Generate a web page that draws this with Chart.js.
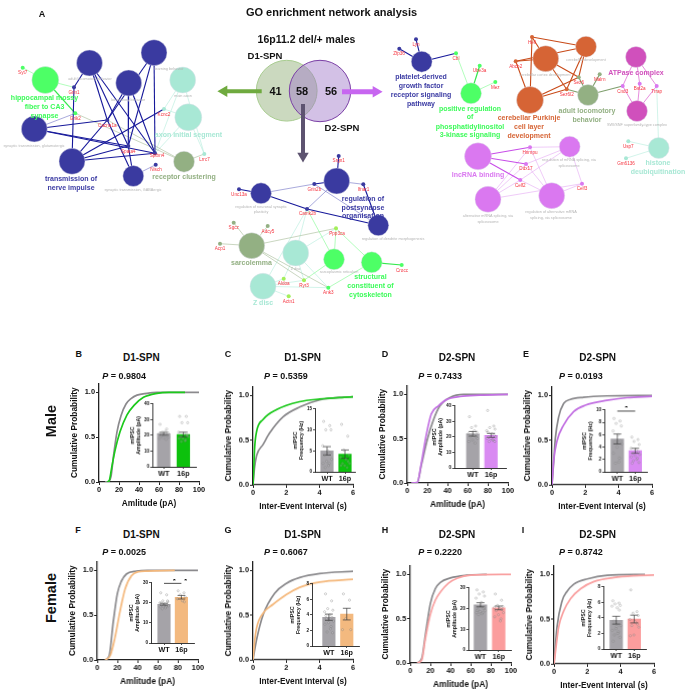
<!DOCTYPE html>
<html>
<head>
<meta charset="utf-8">
<title>GO enrichment network analysis</title>
<script src="https://cdn.jsdelivr.net/npm/chart.js@4"></script>
<style>
  body { margin: 0; background: #fff; width: 685px; height: 691px; overflow: hidden; position: relative; font-family: "Liberation Sans", Arial, sans-serif; }
  canvas { position: absolute; }
  .t { position: absolute; font-weight: bold; color: #111; white-space: nowrap; transform: translate(-50%, -50%); }
  .p { position: absolute; font-weight: bold; color: #111; white-space: nowrap; transform: translateY(-50%); font-size: 9px; }
</style>
</head>
<body>
<script>
// ---------- panel A: network nodes, in figure units
const nodeNames = ['b1','b2','b3','b4','b5','b6','gL','tL1','tL2','oL',
  'Syt7','Grin1','Grik2','Cacna1a','Kcnc2','Spata4','Sptbn4','Nisch','Lrrc7',
  'bC1','bC2','bC3','Unc13a','Grin2b','Camk2b','Srgn1','Ifnar1','Ppp3ca','Sgcz','Adcy5','Acp1','oC','tC1','gC1','gC2','tC2','Aldoa','Ryr3','Ank3','Actn1','Crocc',
  'bR','Zfp36','Lyn','Cbl','gR','Ube3a','Mez','r1','r2','r3','Hell','Abcb2','Sez6l2','Sez6','Malrn','oR','Cnd3','Bst2a','Trrap','m1','m2','tR','Usp7','Gm6136',
  'v1','v2','v3','v4','Hnrnpu','Ddx17','Celf2','Celf3'];
const nodeX = [89.5,154,128.7,34.3,72,133.3,45.3,182.7,188.3,184,
  22.7,74,75.3,107.3,164,128.3,155,155.7,204.3,
  261,336.7,378.3,239,314.3,307,338.7,363.3,336,233.7,267.7,220,251.7,295.7,334,371.7,263,283.7,304,328.3,288.7,401.7,
  421.7,399.3,416,456,471,479.7,495.3,545.7,586,530,532,515.7,566.7,578.7,599.7,588,622.7,639.7,656.7,636,637,658.7,628.3,626,
  478,569.7,488,551.7,530,526,520.3,582];
const nodeY = [63,52.7,83,129,161.3,176,80,80,117.3,161.7,
  67.7,87.3,113.3,120,109,146,153.3,164.7,154,
  193.3,181,225.3,189.3,184,209,156,184.3,228.3,222.7,226,243.7,245.7,253,259.3,262.3,286.3,278.7,280.3,287.7,296.3,265,
  61.7,48.7,39.3,53.3,93.3,65.7,82,58.7,46.7,100,37,61.3,89.3,77.3,74.3,95,86,83.7,86,57,111,148,141.3,158.3,
  156.3,146.7,199.3,195.7,147.3,164,180,183.7];
const nodeSize = [13,13,13,13,13,10.5,13.5,13,13.5,10.5,
  2,2,2,2,2,2,2,2,2,
  10.5,13,10.5,2,2,2,2,2,2,2,2,2,13,13,10.5,10.5,13,2,2,2,2,2,
  10.5,2,2,2,10.5,2,2,13,10.5,13.5,2,2,2,2,2,10.5,2,2,2,10.5,10.5,10.5,2,2,
  13.5,10.5,13,13,2,2,2,2];
const nodeTone = ['blue','blue','blue','blue','blue','blue','green','teal','teal','olive',
  'green','blue','green','blue','teal','blue','blue','blue','teal',
  'blue','blue','blue','blue','blue','blue','blue','blue','lime','olive','olive','olive','olive','teal','green','green','teal','lime','lime','green','lime','green',
  'blue','blue','blue','green','green','green','green','rust','rust','rust','rust','rust','rust','olive','olive','olive','violet','violet','violet','mag','mag','teal','teal','teal',
  'violet','violet','violet','violet','violet','violet','violet','violet'];

const thickBlue = [['b1','Grin1'],['b1','Spata4'],['b1','Sptbn4'],['b1','Cacna1a'],['b2','Cacna1a'],['b2','Spata4'],['b2','Sptbn4'],['b3','Cacna1a'],['b3','Spata4'],['b3','Sptbn4'],['b4','Cacna1a'],['b4','Spata4'],['b4','Sptbn4'],['b5','Cacna1a'],['b5','Spata4'],['b5','Sptbn4'],['b5','Kcnc2'],['b5','Grin1'],['b6','Cacna1a'],['b6','Spata4'],
  ['Unc13a','bC1'],['bC1','Camk2b'],['bC2','Grin2b'],['bC2','Srgn1'],['Ifnar1','bC3'],['Camk2b','bC3'],['bR','Zfp36'],['bR','Lyn'],['bR','Cbl']];
const thinBlue = [['b6','Nisch'],['b4','Grik2'],['bC2','Ifnar1'],['Grin2b','bC3'],['Grin2b','bC1'],['Camk2b','bC2']];
const thinGreen = [['gL','Syt7'],['gL','Grin1'],['gC1','Camk2b'],['gC1','Ppp3ca'],['gC1','Ryr3'],['gC2','Ppp3ca'],['gC2','Ank3'],['gR','Cbl'],['gR','Mez']];
const thickGreen = [['gL','Grik2'],['gC2','Crocc'],['gR','Ube3a']];
const thinOlive = [['oL','Grik2'],['oL','Cacna1a'],['oL','Lrrc7'],['oC','Ppp3ca'],['oC','Ank3'],['oC','Ryr3'],['oC','Sgcz'],['oC','Adcy5'],['oC','Acp1']];
const thickOlive = [['oR','Sez6'],['oR','Sez6l2'],['oR','Malrn'],['oR','Cnd3']];
const thinTeal = [['tL1','Kcnc2'],['tL1','Sptbn4'],['tL1','Lrrc7'],['tL2','Kcnc2'],['tL2','Sptbn4'],['tL2','Lrrc7'],
  ['tC1','Camk2b'],['tC1','Aldoa'],['tC1','Ryr3'],['tC1','Ank3'],['tC1','Ppp3ca'],['tC2','Camk2b'],['tC2','Aldoa'],['tC2','Ryr3'],['tC2','Actn1'],['tC2','Ank3'],
  ['tR','Usp7'],['tR','Gm6136'],['tR','Trrap']];
const rustEdges = [['r1','Hell'],['r2','Hell'],['r3','Hell'],['r1','Abcb2'],['r2','Abcb2'],['r3','Abcb2'],['r1','Sez6l2'],['r2','Sez6l2'],['r3','Sez6l2'],['r1','Sez6'],['r2','Sez6'],['r3','Sez6']];
const magentaEdges = [['m1','Cnd3'],['m1','Bst2a'],['m1','Trrap'],['m2','Cnd3'],['m2','Bst2a'],['m2','Trrap']];
const violetThick = [['v1','Hnrnpu'],['v1','Ddx17'],['v1','Celf2']];
const violetThin = [['v2','Hnrnpu'],['v2','Ddx17'],['v2','Celf2'],['v2','Celf3'],['v3','Hnrnpu'],['v3','Ddx17'],['v3','Celf2'],['v3','Celf3'],['v4','Hnrnpu'],['v4','Ddx17'],['v4','Celf2'],['v4','Celf3']];

const groupLabels = [
  ['hippocampal mossy',44.5,98,'green'],['fiber to CA3',44.5,107,'green'],['synapse',44.5,116,'green'],
  ['axon initial segment',188.5,135.5,'teal'],['receptor clustering',184,177.5,'olive'],
  ['transmission of',71,179.5,'blue'],['nerve impulse',71,188.5,'blue'],
  ['regulation of',363,199,'blue'],['postsynapse',363,208,'blue'],['organisation',363,216.5,'blue'],
  ['sarcolemma',251.5,263.5,'olive'],['Z disc',263,303.5,'teal'],
  ['structural',370.5,277.5,'green'],['constituent of',370.5,286.5,'green'],['cytoskeleton',370.5,295.5,'green'],
  ['platelet-derived',421,77.5,'blue'],['growth factor',421,86.5,'blue'],['receptor signaling',421,95.5,'blue'],['pathway',421,104.5,'blue'],
  ['positive regulation',470,109,'green'],['of',470,117.5,'green'],['phosphatidylinositol',470,127,'green'],['3-kinase signaling',470,135.5,'green'],
  ['cerebellar Purkinje',529,118,'rust'],['cell layer',529,127,'rust'],['development',529,136,'rust'],
  ['adult locomotory',587,111,'olive'],['behavior',587,120,'olive'],['ATPase complex',636,73,'mag'],
  ['histone',658,163.5,'teal'],['deubiquitination',658,172.5,'teal'],['lncRNA binding',478,175,'violet']];
const geneLabels = [
  ['Syt7',22.7,73],['Grin1',74,92.7],['Grik2',75.3,118.7],['Cacna1a',107.3,125.7],['Kcnc2',164,115],['Spata4',128.3,151.7],['Sptbn4',157,156],['Nisch',156,170],['Lrrc7',204.5,159.5],
  ['Unc13a',239,195],['Grin2b',314.3,189.5],['Camk2b',307.5,214],['Srgn1',338.7,161],['Ifnar1',363.5,190],['Ppp3ca',337,234],['Sgcz',233.7,228],['Adcy5',268,231.5],['Acp1',220,249],['Aldoa',283.7,284],['Ryr3',304,286],['Ank3',328.3,293],['Actn1',288.7,302],['Crocc',402,270.5],
  ['Zfp36',399,54],['Lyn',416,45],['Cbl',456,59],['Ube3a',479.5,71],['Mez',495.3,87.5],['Hell',532,42.5],['Abcb2',515.7,67],['Sez6l2',566.7,95],['Sez6',578.7,82.5],['Malrn',599.7,79.5],['Cnd3',622.7,91.5],['Bst2a',639.7,89],['Trrap',656.7,91.5],['Usp7',628.3,147],['Gm6136',626,163.5],
  ['Hnrnpu',530,153],['Ddx17',526,169],['Celf2',520.3,185.5],['Celf3',582,189]];
const termLabels = [
  ['adult locomotory behavior',90,79],['learning behavior',169,69],['locomotory behavior',128,99.5],['synaptic transmission, glutamatergic',34,145.5],['main axon',183,96],['synaptic transmission, GABAergic',133,189.5],
  ['regulation of neuronal synaptic',261,206.5],['plasticity',261,211.5],['regulation of dendrite morphogenesis',393,238.5],['Z disc',295.7,269],['sarcoplasmic reticulum',339,272],
  ['cerebellar development',586,59.5],['cerebellar cortex development',545,75],['SWI/SNF superfamily-type complex',637,124.5],
  ['regulation of mRNA splicing, via',569,160],['spliceosome',569,166],['alternative mRNA splicing, via',488,215.5],['spliceosome',488,221.5],['regulation of alternative mRNA',551,212],['splicing, via spliceosome',551,218]];

// Venn diagram and arrows
const vennX = [286.7, 320], vennY = [90.7, 91], vennSize = [30.4, 30.7];
const vennCounts = [['41',275.5,92],['58',302,92],['56',331,92]];
const leftArrow = [[261.7,91.3],[224,91.3]], rightArrow = [[342,91.7],[376,91.7]], downArrow = [[303,104],[303,156]];

// ---------- panels B-I: cumulative curves [x, y]
const bWtCurve = [[6,0],[10,.01],[12,.06],[14.6,.3],[18,.56],[22,.74],[27,.87],[32,.93],[38,.97],[48,.99],[58,1],[100,1]];
const b16pCurve = [[8,0],[10,.01],[13,.18],[16,.35],[21,.56],[28,.75],[35,.855],[44.5,.945],[58,.99],[70,1],[86,1]];
const cWtCurve = [[0,0],[.1,.2],[.22,.33],[.6,.45],[1,.58],[1.8,.76],[2.8,.87],[4,.95],[5.4,.98],[6,.985]];
const c16pCurve = [[0,0],[.05,.2],[.1,.42],[.22,.6],[.6,.73],[1.4,.84],[2.8,.93],[4,.96],[5.5,.98],[6,.985]];
const dWtCurve = [[4,0],[10,.005],[14,.2],[20,.49],[26,.71],[32.5,.87],[42.5,.965],[56,1],[100,1]];
const d16pCurve = [[4,0],[10,.005],[14,.22],[19,.545],[24,.78],[31,.87],[39,.94],[52.5,.975],[72,.99],[100,1]];
const eWtCurve = [[0,0],[.1,.25],[.2,.52],[.4,.76],[.7,.91],[1.1,.955],[1.9,.98],[3.3,.995],[6,1]];
const e16pCurve = [[0,0],[.1,.27],[.3,.49],[.7,.67],[1.3,.82],[2,.89],[3.3,.945],[4.5,.975],[6,.99]];
const fWtCurve = [[8,0],[12,.05],[16,.43],[20,.74],[24,.88],[29,.96],[39,.993],[50,1],[100,1]];
const f16pCurve = [[8,0],[13,.05],[17.6,.25],[22.6,.54],[27.6,.79],[34,.94],[41,.985],[49,.993],[77,1]];
const gWtCurve = [[0,0],[.22,.23],[.62,.51],[1.3,.745],[2,.855],[2.8,.92],[4,.965],[6,.99]];
const g16pCurve = [[0,0],[.08,.18],[.22,.36],[.62,.525],[1.2,.62],[2,.73],[2.8,.81],[4,.87],[6,.9]];
const hWtCurve = [[7,0],[11.6,.055],[15,.31],[20,.67],[25,.84],[30,.91],[40,.96],[56,.99],[76,1]];
const h16pCurve = [[7,0],[11.6,.035],[15,.27],[20,.545],[25,.71],[30,.8],[38,.9],[46.5,.955],[60,.99],[100,1]];
const iWtCurve = [[0,0],[.18,.41],[.48,.7],[.78,.81],[1.18,.89],[2,.95],[3.2,.99],[5.46,1]];
const i16pCurve = [[0,0],[.08,.12],[.28,.41],[.58,.59],[1,.73],[1.6,.84],[2.4,.92],[3.6,.965],[4.8,.985],[6,.993]];

// ---------- inset bars
const groupNames = ['WT', '16p'];
const bMeans = [21, 20.5], bSem = [.9, 1.5];
const cMeans = [5, 4.2], cSem = [1, 1];
const dMeans = [22, 21], dSem = [1.5, 1.3];
const eMeans = [5.3, 3.4], eSem = [.8, .4];
const fMeans = [19.3, 22.8], fSem = [.5, .9];
const gMeans = [3.7, 4.1], gSem = [.4, .75];
const hMeans = [21.8, 20.3], hSem = [1, .9];
const iMeans = [3.7, 3.85], iSem = [.5, .5];
const bWtCells = [27,24,22,21.5,21,20.5,20,19.5,19,18.5,18,17.5,22.5,20.5];
const b16pCells = [32,32,28,28,22,21,20,19,19,18,18,17,16.5,16,20];
const cWtCells = [12,11,10,10,6.2,5,4.5,4,3,2.5,2,2,1.5,1];
const c16pCells = [11.3,8.5,5.2,4,3.5,3,2.5,2,2,1.5,1.5,1];
const dWtCells = [33,27,26,23,22,21,20,20,19,18,17,16,24];
const d16pCells = [37,27,26,25,24,22,21,20,20,19,19,18,18,17,17,23];
const eWtCells = [8.6,8.2,7.8,7.4,6.6,6,5,4.8,4.5,4,3,2.2,1.6,1.4];
const e16pCells = [5.6,5.2,4.9,4.4,3.8,3.5,3.2,3,2.8,2.6,2.4,2.2,2,1.8,1.5,1.4];
const fWtCells = [25,24,21,20.5,20,19.5,19,19,18.5,18.5,18,18,17.5,17,21,20];
const f16pCells = [26,25,24,23,22,21,20.5];
const gWtCells = [6.7,5.8,4.8,4.6,4.4,4,3.7,3.5,3.2,3,2.8,2.5,2.2,1.8,1.7,3.9];
const g16pCells = [6.7,5.9,3.5,2.1,2.1];
const hWtCells = [29,28,27,26,25,23,20,19.5,19,18.5,18,18,17.5,17,20.5,19];
const h16pCells = [27,24,21.5,21,20.5,20,19.5,19,18,17,16,15,14];
const iWtCells = [6.2,5.9,5.8,5.6,5.5,5.3,5,3.6,3,2.6,2.4,2.2,2,1.8,1.5,1,2.9];
const i16pCells = [7.6,4.8,4.6,4.3,3.8,3.5,3.2,3,2.8,1.8,1.7];
const jitter = [-.22,.18,-.08,.26,-.28,.06,.2,-.16,.3,-.02,-.26,.14,.1,-.12,.24,-.2,.02];

const FONT = '"Liberation Sans", Arial, sans-serif';
const tones = { blue:'#3a3aa0', green:'#4dff66', lime:'#a4ef5a', teal:'#a8e8d5', olive:'#93b083', rust:'#d66435', mag:'#d050bc', violet:'#da78f0' };
const labelTones = { blue:'#3b3ba3', green:'#3dfb5a', teal:'#a8e8d5', olive:'#93b083', rust:'#d66435', mag:'#d050bc', violet:'#da78f0' };
const GREY = '#8b8a8d', BAR_GREY = '#a5a3a8';

function addCanvas(left, top, width, height) {
  const c = document.createElement('canvas');
  c.style.left = left + 'px';
  c.style.top = top + 'px';
  c.style.width = width + 'px';
  c.style.height = height + 'px';
  c.width = width;
  c.height = height;
  document.body.appendChild(c);
  return c;
}

function addText(str, x, y, size, color, rot) {
  const d = document.createElement('div');
  d.className = 't';
  d.textContent = str;
  d.style.left = x + 'px';
  d.style.top = y + 'px';
  d.style.fontSize = size + 'px';
  if (color) d.style.color = color;
  if (rot) d.style.transform = 'translate(-50%,-50%) rotate(' + rot + 'deg)';
  document.body.appendChild(d);
}

function addP(value, x, y) {
  const d = document.createElement('div');
  d.className = 'p';
  d.innerHTML = '<i>P</i> = ' + value;
  d.style.left = x + 'px';
  d.style.top = y + 'px';
  document.body.appendChild(d);
}

const pts = list => list.map(p => ({ x: p[0], y: p[1] }));

// ---------- network + venn
function edgeSet(list, color, width) {
  return list.map(e => {
    const a = nodeNames.indexOf(e[0]), b = nodeNames.indexOf(e[1]);
    return { data: [{ x: nodeX[a], y: nodeY[a] }, { x: nodeX[b], y: nodeY[b] }], showLine: true, borderColor: color, borderWidth: width, pointRadius: 0, order: 5 };
  });
}
function arrowSet(line, color, width, rot) {
  return [
    { data: pts([line[1]]), pointStyle: 'triangle', pointRadius: 6.6, rotation: rot, pointBackgroundColor: color, pointBorderWidth: 0, order: 0 },
    { data: pts(line), showLine: true, borderColor: color, borderWidth: width, pointRadius: 0, order: 1 }
  ];
}
const labelPlugin = {
  id: 'netLabels',
  afterDatasetsDraw(chart) {
    const c = chart.ctx, sx = chart.scales.x, sy = chart.scales.y;
    c.save();
    c.textAlign = 'center';
    c.textBaseline = 'middle';
    c.font = '400 3.8px ' + FONT;
    c.fillStyle = '#b5b5b5';
    termLabels.forEach(l => c.fillText(l[0], sx.getPixelForValue(l[1]), sy.getPixelForValue(l[2])));
    c.font = '400 4.6px ' + FONT;
    c.fillStyle = '#f5333f';
    geneLabels.forEach(l => c.fillText(l[0], sx.getPixelForValue(l[1]), sy.getPixelForValue(l[2])));
    c.font = 'bold 7px ' + FONT;
    groupLabels.forEach(l => {
      c.fillStyle = labelTones[l[3]];
      c.fillText(l[0], sx.getPixelForValue(l[1]), sy.getPixelForValue(l[2]));
    });
    c.font = 'bold 11px ' + FONT;
    c.fillStyle = '#111';
    vennCounts.forEach(l => c.fillText(l[0], sx.getPixelForValue(l[1]), sy.getPixelForValue(l[2])));
    c.restore();
  }
};
new Chart(addCanvas(0, 0, 685, 335), {
  type: 'scatter',
  data: { datasets: [
    ...arrowSet(leftArrow, '#6faa3f', 4, -90),
    ...arrowSet(rightArrow, '#c766f0', 5, 90),
    ...arrowSet(downArrow, '#5d5370', 4, 180),
    { data: [{ x: vennX[1], y: vennY[1] }], pointRadius: vennSize[1], pointBackgroundColor: 'rgba(158,118,200,.45)', pointBorderColor: '#7a3fa5', pointBorderWidth: 1, order: 2 },
    { data: [{ x: vennX[0], y: vennY[0] }], pointRadius: vennSize[0], pointBackgroundColor: 'rgba(165,190,145,.58)', pointBorderColor: '#a8cc90', pointBorderWidth: 1, order: 3 },
    { data: nodeX.map((x, i) => ({ x, y: nodeY[i] })), pointRadius: nodeSize, pointBackgroundColor: nodeTone.map(t => tones[t]), pointBorderColor: 'rgba(225,225,235,.8)', pointBorderWidth: nodeSize.map(s => s > 3 ? .6 : 0), order: 4 },
    ...edgeSet(thickBlue, '#16189a', 1.1),
    ...edgeSet(thinBlue, '#6f70c4', .6),
    ...edgeSet(thinGreen, '#7dfb8e', .6),
    ...edgeSet(thickGreen, '#35e84d', 1.2),
    ...edgeSet(thinOlive, '#a4ba96', .6),
    ...edgeSet(thickOlive, '#7f9f6d', 1.1),
    ...edgeSet(thinTeal, '#b4ecdb', .6),
    ...edgeSet(rustEdges, '#c84a18', 1.1),
    ...edgeSet(magentaEdges, '#e070d4', .8),
    ...edgeSet(violetThick, '#c84ee8', 1.1),
    ...edgeSet(violetThin, '#e4a8f4', .6)
  ] },
  options: {
    animation: false, responsive: false, maintainAspectRatio: false,
    layout: { padding: 0, autoPadding: false },
    plugins: { legend: { display: false }, tooltip: { enabled: false } },
    scales: {
      x: { type: 'linear', min: 0, max: 685, display: false },
      y: { type: 'linear', min: 0, max: 335, reverse: true, display: false }
    }
  },
  plugins: [labelPlugin]
});

// ---------- cumulative plots
function cdfChart(cfg) {
  const padL = 29, padR = 14, padT = 3, axisH = 27;
  const plotTop = cfg.y0 - 1.1 * (cfg.y0 - cfg.y1);
  new Chart(addCanvas(cfg.x0 - padL, plotTop - padT, cfg.x1 - cfg.x0 + padL + padR, cfg.y0 - plotTop + padT + axisH), {
    type: 'scatter',
    data: { datasets: [
      { data: pts(cfg.mut), showLine: true, borderColor: cfg.color, borderWidth: 1.7, pointRadius: 0, cubicInterpolationMode: 'monotone' },
      { data: pts(cfg.wt), showLine: true, borderColor: GREY, borderWidth: 1.7, pointRadius: 0, cubicInterpolationMode: 'monotone' }
    ] },
    options: {
      animation: false, responsive: false, maintainAspectRatio: false,
      layout: { padding: { top: padT, right: padR, left: 0, bottom: 0 }, autoPadding: false },
      plugins: { legend: { display: false }, tooltip: { enabled: false } },
      scales: {
        x: {
          type: 'linear', min: 0, max: cfg.xMax,
          afterFit: s => { s.height = axisH; },
          border: { color: '#222', width: 1.3 },
          grid: { drawOnChartArea: false, color: '#222', tickLength: 3, lineWidth: 1 },
          ticks: { stepSize: cfg.xStep, autoSkip: false, maxRotation: 0, padding: 1, color: '#111', font: { family: FONT, size: 7.4, weight: 'bold' } },
          title: { display: true, text: cfg.xTitle, color: '#111', padding: 0, font: { family: FONT, size: 8.3, weight: 'bold' } }
        },
        y: {
          type: 'linear', min: 0, max: 1.1,
          afterFit: s => { s.width = padL; },
          border: { color: '#222', width: 1.3 },
          grid: { drawOnChartArea: false, color: '#222', tickLength: 3, lineWidth: 1 },
          ticks: { stepSize: .5, includeBounds: false, padding: 1, color: '#111', callback: v => v.toFixed(1), font: { family: FONT, size: 7.4, weight: 'bold' } },
          title: { display: true, text: 'Cumulative Probability', color: '#111', padding: 0, font: { family: FONT, size: 8.4, weight: 'bold' } }
        }
      }
    }
  });
}

// ---------- inset bar plots
function insetChart(cfg) {
  const padL = 23, padT = 3, axisH = 15, padR = 2;
  const unit = cfg.c2 - cfg.c1;
  const cellSet = (list, pos) => ({
    type: 'scatter',
    data: list.map((v, i) => ({ x: pos + jitter[i % jitter.length] * .85, y: v })),
    pointRadius: 1.1, pointBackgroundColor: 'rgba(255,255,255,.15)', pointBorderColor: 'rgba(110,110,110,.6)', pointBorderWidth: .5
  });
  const whisker = (i) => {
    const p = i + 1, m = cfg.means[i], s = cfg.sem[i];
    return [
      [[p, m - s], [p, m + s]],
      [[p - .22, m + s], [p + .22, m + s]],
      [[p - .22, m - s], [p + .22, m - s]]
    ].map(line => ({ type: 'scatter', data: pts(line), showLine: true, borderColor: '#333', borderWidth: .7, pointRadius: 0 }));
  };
  const sets = [
    cellSet(cfg.wtCells, 1), cellSet(cfg.mutCells, 2),
    ...whisker(0), ...whisker(1)
  ];
  if (cfg.sigLine) sets.push({ type: 'scatter', data: pts(cfg.sigLine), showLine: true, borderColor: '#222', borderWidth: .8, pointRadius: 0, clip: false });
  sets.push({
    type: 'bar',
    data: cfg.means.map((v, i) => ({ x: i + 1, y: v })),
    backgroundColor: [BAR_GREY, cfg.color],
    barThickness: 12.5
  });
  const starPlugin = {
    id: 'stars',
    afterDatasetsDraw(chart) {
      if (!cfg.stars) return;
      const c = chart.ctx;
      c.save();
      c.font = 'bold 7px ' + FONT;
      c.fillStyle = '#111';
      c.textAlign = 'center';
      c.textBaseline = 'middle';
      cfg.stars.forEach(s => c.fillText('*', chart.scales.x.getPixelForValue(s[0]), chart.scales.y.getPixelForValue(s[1])));
      c.restore();
    }
  };
  new Chart(addCanvas(cfg.left - padL, cfg.top - padT, cfg.right - cfg.left + padL + padR, cfg.bottom - cfg.top + padT + axisH), {
    type: 'bar',
    data: { datasets: sets },
    options: {
      animation: false, responsive: false, maintainAspectRatio: false,
      layout: { padding: { top: padT, right: padR, left: 0, bottom: 0 }, autoPadding: false },
      plugins: { legend: { display: false }, tooltip: { enabled: false } },
      scales: {
        x: {
          type: 'linear', offset: false,
          min: 1 - (cfg.c1 - cfg.left) / unit, max: 2 + (cfg.right - cfg.c2) / unit,
          afterFit: s => { s.height = axisH; },
          afterBuildTicks: s => { s.ticks = [{ value: 1 }, { value: 2 }]; },
          border: { color: '#222', width: .9 },
          grid: { offset: false, drawOnChartArea: false, color: '#222', tickLength: 2, lineWidth: .8 },
          ticks: { autoSkip: false, maxRotation: 0, padding: 1, color: '#111', callback: v => groupNames[v - 1], font: { family: FONT, size: 7.2, weight: 'bold' } }
        },
        y: {
          type: 'linear', min: 0, max: cfg.yMax,
          afterFit: s => { s.width = padL; },
          border: { color: '#222', width: .9 },
          grid: { drawOnChartArea: false, color: '#222', tickLength: 2, lineWidth: .8 },
          ticks: { stepSize: cfg.yStep, padding: 1, color: '#111', font: { family: FONT, size: 4.6, weight: 'bold' } },
          title: { display: true, text: ['mIPSC', cfg.yTitle], color: '#111', padding: 0, font: { family: FONT, size: 5.3, weight: 'bold', lineHeight: 1.25 } }
        }
      }
    },
    plugins: [starPlugin]
  });
}

const GREEN = '#1cc91c', PURPLE = '#c270e2', ORANGE = '#f4b87c', PINK = '#f9a1a1';
const AMP = 'Amlitude (pA)', IEI = 'Inter-Event Interval (s)', AMP_IN = 'Amplitude (pA)', FREQ_IN = 'Frequency (Hz)';

cdfChart({ x0: 98.7, x1: 199, y1: 390, y0: 482, xMax: 100, xStep: 20, xTitle: AMP, wt: bWtCurve, mut: b16pCurve, color: GREEN });
cdfChart({ x0: 253, x1: 353, y1: 393.3, y0: 485, xMax: 6, xStep: 2, xTitle: IEI, wt: cWtCurve, mut: c16pCurve, color: GREEN });
cdfChart({ x0: 407.3, x1: 507.7, y1: 391.7, y0: 483.3, xMax: 100, xStep: 20, xTitle: AMP, wt: dWtCurve, mut: d16pCurve, color: PURPLE });
cdfChart({ x0: 551.7, x1: 652, y1: 393.3, y0: 484.7, xMax: 6, xStep: 2, xTitle: IEI, wt: eWtCurve, mut: e16pCurve, color: PURPLE });
cdfChart({ x0: 97.3, x1: 197.7, y1: 567.7, y0: 659.7, xMax: 100, xStep: 20, xTitle: AMP, wt: fWtCurve, mut: f16pCurve, color: ORANGE });
cdfChart({ x0: 253, x1: 353, y1: 568.3, y0: 659.7, xMax: 6, xStep: 2, xTitle: IEI, wt: gWtCurve, mut: g16pCurve, color: ORANGE });
cdfChart({ x0: 410, x1: 510.7, y1: 571.7, y0: 663.3, xMax: 100, xStep: 20, xTitle: AMP, wt: hWtCurve, mut: h16pCurve, color: PINK });
cdfChart({ x0: 553.7, x1: 654, y1: 572.3, y0: 664, xMax: 6, xStep: 2, xTitle: IEI, wt: iWtCurve, mut: i16pCurve, color: PINK });

insetChart({ left: 152.3, right: 196, top: 403.3, bottom: 467, c1: 163.7, c2: 183.3, yMax: 40, yStep: 10, yTitle: AMP_IN, means: bMeans, sem: bSem, wtCells: bWtCells, mutCells: b16pCells, color: '#0cc10c' });
insetChart({ left: 315, right: 355, top: 408.3, bottom: 471.7, c1: 327, c2: 345, yMax: 15, yStep: 5, yTitle: FREQ_IN, means: cMeans, sem: cSem, wtCells: cWtCells, mutCells: c16pCells, color: '#0cc10c' });
insetChart({ left: 454, right: 505.7, top: 405, bottom: 468.3, c1: 472.5, c2: 490.7, yMax: 40, yStep: 10, yTitle: AMP_IN, means: dMeans, sem: dSem, wtCells: dWtCells, mutCells: d16pCells, color: '#d98af2' });
insetChart({ left: 604.3, right: 646.7, top: 409, bottom: 471.7, c1: 617.2, c2: 635, yMax: 10, yStep: 2, yTitle: FREQ_IN, means: eMeans, sem: eSem, wtCells: eWtCells, mutCells: e16pCells, color: '#d98af2', sigLine: [[1, 9.8], [2, 9.8]], stars: [[1.5, 10.2]] });
insetChart({ left: 150.7, right: 194, top: 581.7, bottom: 643.3, c1: 163.8, c2: 181.3, yMax: 30, yStep: 10, yTitle: AMP_IN, means: fMeans, sem: fSem, wtCells: fWtCells, mutCells: f16pCells, color: '#f3b97f', sigLine: [[1, 29.7], [2, 29.7]], stars: [[1.6, 31], [2.25, 31]] });
insetChart({ left: 311.7, right: 359, top: 582.7, bottom: 646.3, c1: 328.7, c2: 346.7, yMax: 8, yStep: 2, yTitle: FREQ_IN, means: gMeans, sem: gSem, wtCells: gWtCells, mutCells: g16pCells, color: '#f3b97f' });
insetChart({ left: 468.3, right: 510.7, top: 586.7, bottom: 650, c1: 480.3, c2: 498.5, yMax: 30, yStep: 10, yTitle: AMP_IN, means: hMeans, sem: hSem, wtCells: hWtCells, mutCells: h16pCells, color: '#fb9d9d' });
insetChart({ left: 603.3, right: 646, top: 586, bottom: 649.3, c1: 616.2, c2: 634.2, yMax: 8, yStep: 2, yTitle: FREQ_IN, means: iMeans, sem: iSem, wtCells: iWtCells, mutCells: i16pCells, color: '#fb9d9d' });

// ---------- page text
addText('A', 42, 14, 9);
addText('GO enrichment network analysis', 331.5, 12, 11);
addText('16p11.2 del/+ males', 306.5, 39, 10.5);
addText('D1-SPN', 265, 54.5, 9.5);
addText('D2-SPN', 342, 127, 9.5);
addText('Male', 51, 421, 14.5, null, -90);
addText('Female', 51, 597.7, 14.5, null, -90);

[['B',78.7,354,'D1-SPN',141.3,357.3,'0.9804',102.3,375.5],
 ['C',228,354,'D1-SPN',302.7,357.3,'0.5359',264,375.5],
 ['D',385,354,'D2-SPN',457,357.3,'0.7433',418.3,375.5],
 ['E',526,354,'D2-SPN',597.7,357.3,'0.0193',559,375.5],
 ['F',78,530.3,'D1-SPN',141.3,533.7,'0.0025',102.3,552],
 ['G',228,530.3,'D1-SPN',302.7,533.7,'0.6067',264,552],
 ['H',385,530.3,'D2-SPN',457,533.7,'0.2220',418.3,552],
 ['I',523,530.3,'D2-SPN',597.7,533.7,'0.8742',559,552]].forEach(r => {
  addText(r[0], r[1], r[2], 9);
  addText(r[3], r[4], r[5], 10);
  addP(r[6], r[7], r[8]);
});
</script>
</body>
</html>
